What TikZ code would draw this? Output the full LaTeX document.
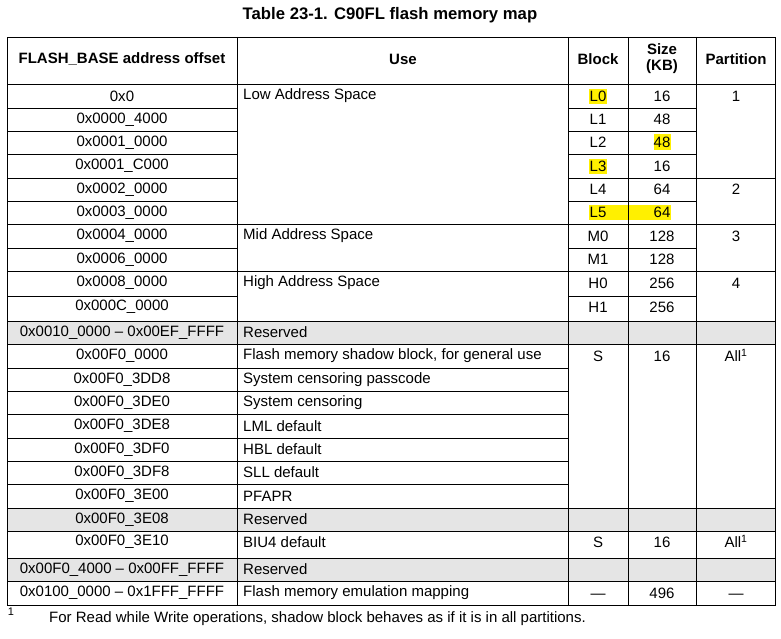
\documentclass[tikz,border=0pt]{standalone}
\usepackage{fontspec}
\setmainfont{Liberation Sans}
\definecolor{rowgray}{RGB}{229,229,229}
\definecolor{hl}{RGB}{255,240,0}
\begin{document}
\begin{tikzpicture}[x=1pt,y=-1pt,
  txt/.style={inner sep=0pt,font=\fontsize{15}{17}\selectfont},
  hd/.style={txt,font=\fontsize{15}{16}\selectfont\bfseries,align=center},
  ln/.style={line width=0.9pt}]
\useasboundingbox (0,0) rectangle (781,639);
% shaded rows
\foreach \a/\b in {321/344,508/531,558/581}
  \fill[rowgray] (7,\a) rectangle (775,\b);
% highlights
\fill[hl] (589,89) rectangle (607,104);
\fill[hl] (589,159) rectangle (607,174);
\fill[hl] (654,134) rectangle (671,150);
\fill[hl] (589,205) rectangle (671,220);
% outer border and vertical lines
\draw[ln] (7,37) rectangle (775,605);
\foreach \x in {237,568.5,628,696} \draw[ln] (\x,37) -- (\x,605);
\draw[ln] (7,84) -- (775,84);
% address column lines: all rows
\foreach \y in {108,131,154,178,201,224,248,271,296,321,344,368,391,414,438,461,484,508,531,558,581}
  \draw[ln] (7,\y) -- (237,\y);
% block+size lines
\foreach \y in {108,131,154,178,201,224,248,271,296,321,344,508,531,558,581}
  \draw[ln] (568.5,\y) -- (696,\y);
% partition lines
\foreach \y in {178,224,271,321,344,508,531,558,581}
  \draw[ln] (696,\y) -- (775,\y);
% use column lines
\foreach \y in {224,271,321,344,368,391,414,438,461,484,508,531,558,581}
  \draw[ln] (237,\y) -- (568.5,\y);
% title
\node[txt,font=\fontsize{16.7}{18}\selectfont\bfseries] (title) at (390,15) {Table 23-1. C90FL flash memory map};
% header
\node[hd] (h1) at (122,59) {FLASH\_BASE address offset};
\node[hd] (h2) at (403,59) {Use};
\node[hd] (h3) at (598,59) {Block};
\node[hd] (h4) at (662,59) {Size\\(KB)};
\node[hd] (h5) at (736,59) {Partition};
% address column
\foreach \y/\t in {96/0x0,119.5/0x0000\_4000,142.5/0x0001\_0000,166/0x0001\_C000,189.5/0x0002\_0000,212.5/0x0003\_0000,
  236/0x0004\_0000,259.5/0x0006\_0000,283/0x0008\_0000,307/0x000C\_0000,332.5/0x0010\_0000 – 0x00EF\_FFFF,
  356/0x00F0\_0000,379.5/0x00F0\_3DD8,402.5/0x00F0\_3DE0,426/0x00F0\_3DE8,449.5/0x00F0\_3DF0,472.5/0x00F0\_3DF8,
  496/0x00F0\_3E00,519.5/0x00F0\_3E08,542/0x00F0\_3E10,569.5/0x00F0\_4000 – 0x00FF\_FFFF,593/0x0100\_0000 – 0x1FFF\_FFFF}
  \node[txt] at (122,\y) {\t};
% use column
\foreach \y/\t in {96/Low Address Space,236/Mid Address Space,283/High Address Space,332.5/Reserved,
  356/{Flash memory shadow block, for general use},379.5/System censoring passcode,402.5/System censoring,
  426/LML default,449.5/HBL default,472.5/SLL default,496/PFAPR,519.5/Reserved,542/BIU4 default,
  569.5/Reserved,593/Flash memory emulation mapping}
  \node[txt,anchor=west] at (243,\y) {\t};
% block and size
\foreach \y/\b/\s in {96/L0/16,119.5/L1/48,142.5/L2/48,166/L3/16,189.5/L4/64,212.5/L5/64,236/M0/128,259.5/M1/128,283/H0/256,307/H1/256,356/S/16,542/S/16}
  { \node[txt] at (598,\y) {\b}; \node[txt] at (662,\y) {\s}; }
\node[txt] at (598,596) {—};
\node[txt] at (662,593) {496};
% partition
\foreach \y/\t in {96/1,189.5/2,236/3,283/4}
  \node[txt] at (736,\y) {\t};
\node[txt] at (736,596) {—};
\node[txt] at (736,355) {All\textsuperscript{1}};
\node[txt] at (736,541) {All\textsuperscript{1}};
% footnote
\node[txt,font=\fontsize{11}{12}\selectfont] (fnm) at (11,612) {1};
\node[txt,anchor=west] (fn) at (49,619) {For Read while Write operations, shadow block behaves as if it is in all partitions.};
\end{tikzpicture}
\end{document}
